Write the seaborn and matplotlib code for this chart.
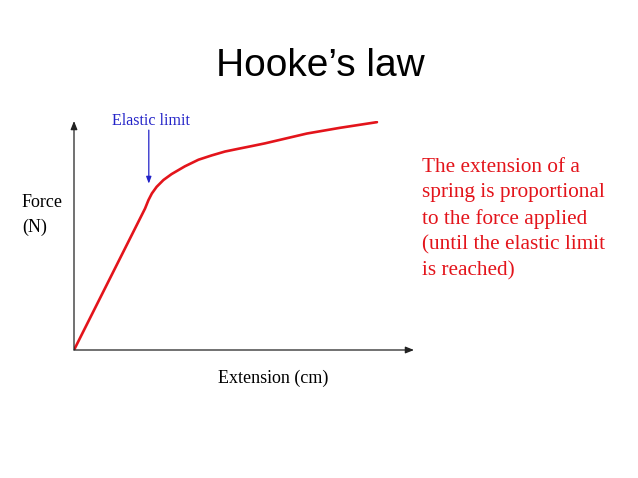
import matplotlib
matplotlib.use("Agg")
import matplotlib.pyplot as plt
import seaborn as sns
import pandas as pd

# Curve (extension vs force, arbitrary units)
extension = [0.0, 2.09, 2.19, 2.29, 2.43, 2.63, 2.87, 3.26, 3.66, 4.05, 4.44,
             4.83, 5.23, 5.62, 6.85, 7.82, 8.91]
force = [0.0, 6.21, 6.58, 6.87, 7.16, 7.46, 7.72, 8.06, 8.35, 8.54, 8.71,
         8.83, 8.95, 9.07, 9.50, 9.75, 10.0]
limit_x = 2.2
limit_arrow = (9.65, 7.3)

title = "Hooke\u2019s law"
x_label = "Extension (cm)"
y_label = "Force\n(N)"
note = ("The extension of a\nspring is proportional\nto the force applied\n"
        "(until the elastic limit\nis reached)")

df = pd.DataFrame({"extension": extension, "force": force})

sns.set_style("white")
plt.rcParams["font.family"] = ["Liberation Serif", "DejaVu Serif"]

W, H = 638, 478
fig = plt.figure(figsize=(W / 100, H / 100), dpi=100)
ax = fig.add_axes([74 / W, (H - 350) / H, 340 / W, (350 - 121) / H])

line = sns.lineplot(data=df, x="extension", y="force", sort=False, color="#e3141b",
                    linewidth=1.9, ax=ax)
for ln in line.lines:
    ln.set_solid_joinstyle("round")
    ln.set_solid_capstyle("round")
ax.set_xlim(0, 10)
ax.set_ylim(0, 10.05)
for s in ax.spines.values():
    s.set_visible(False)
ax.set_xticks([])
ax.set_yticks([])
ax.set_xlabel("")
ax.set_ylabel("")

# axis arrows
arrow = dict(arrowstyle="-|>,head_length=0.5,head_width=0.2", color="#222222", lw=0.9,
             shrinkA=0, shrinkB=0)
ax.annotate("", xy=(1, 0), xytext=(0, 0), xycoords="axes fraction", arrowprops=arrow)
ax.annotate("", xy=(0, 1), xytext=(0, 0), xycoords="axes fraction", arrowprops=arrow)

# elastic limit marker
ax.annotate("", xy=(limit_x, limit_arrow[1]), xytext=(limit_x, limit_arrow[0]),
            arrowprops=dict(arrowstyle="-|>,head_length=0.4,head_width=0.15",
                            color="#2323c8", lw=0.9, shrinkA=0, shrinkB=0))
fig.text(151 / W, 1 - 121 / H, "Elastic limit", color="#2323c8", fontsize=11.5,
         ha="center", va="center")

fig.text(320 / W, 1 - 66 / H, title, family=["Liberation Sans", "DejaVu Sans"],
         fontsize=28, color="black", ha="center", va="center")
fig.text(273 / W, 1 - 378 / H, x_label, fontsize=13, color="black",
         ha="center", va="center")
fig.text(22 / W, 1 - 215 / H, y_label, fontsize=13, color="black", ha="left",
         va="center", linespacing=1.55)
fig.text(422 / W, 1 - 219 / H, note, color="#e3141b", fontsize=15.3, ha="left",
         va="center", linespacing=1.45)

fig.savefig("out.png", dpi=100)
